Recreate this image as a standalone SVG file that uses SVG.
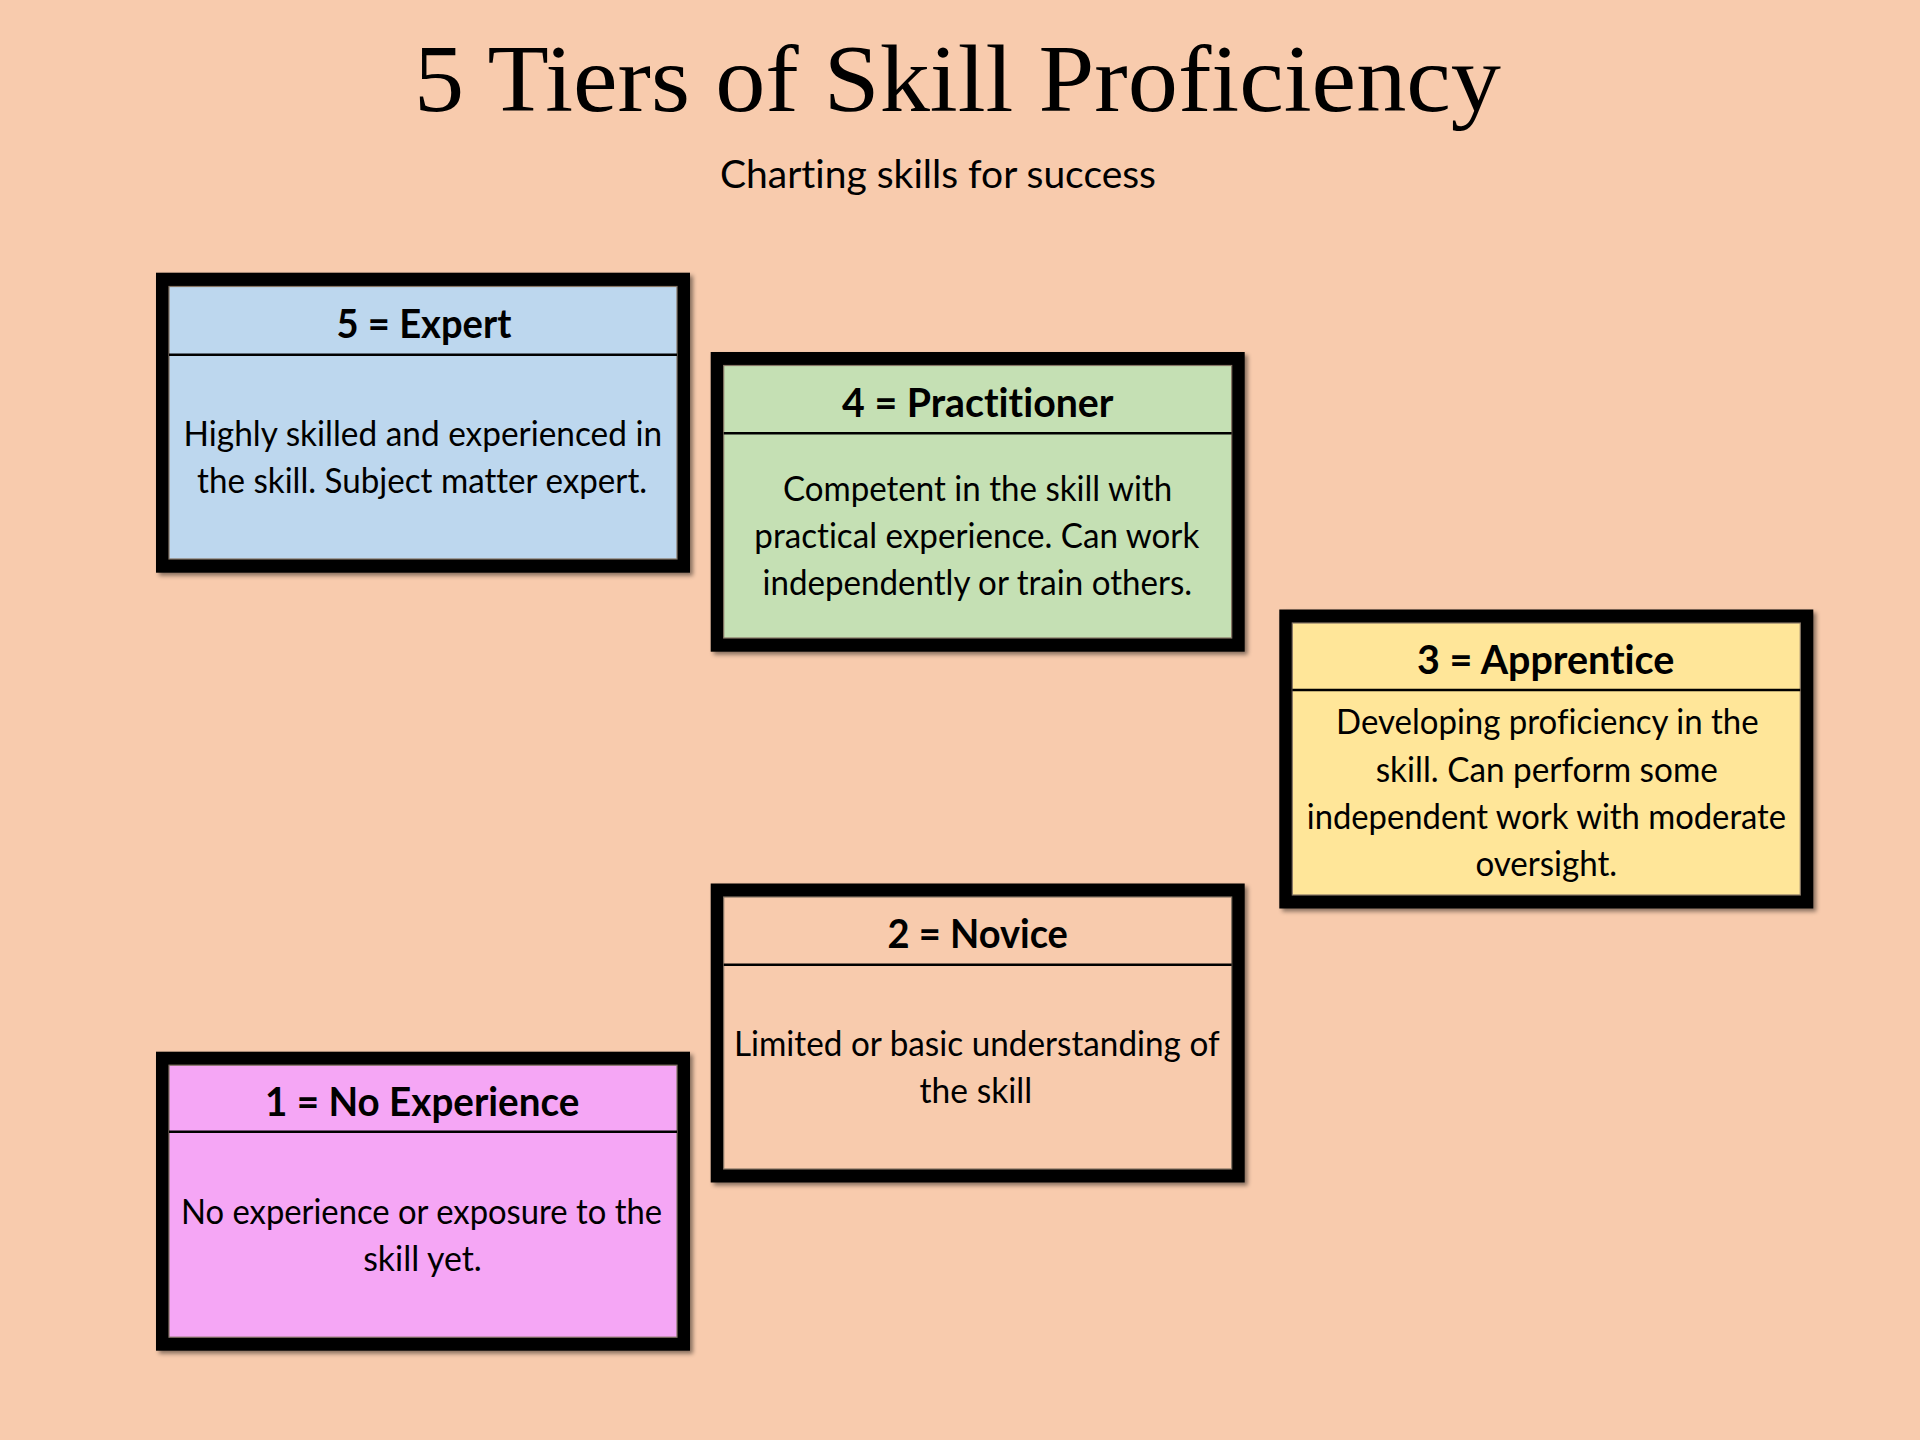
<svg xmlns="http://www.w3.org/2000/svg" width="1920" height="1440" viewBox="0 0 1920 1440">
<defs>
<filter id="sh" x="-5%" y="-5%" width="115%" height="115%">
<feDropShadow dx="3" dy="3" stdDeviation="2" flood-color="#000" flood-opacity="0.45"/>
</filter>
<style>
.frame{fill:#000;filter:url(#sh)}
.inner{stroke:#857565;stroke-width:1.2}
.div{stroke:#000;stroke-width:2.6}
text{font-variant-ligatures:none;font-feature-settings:"liga" 0,"clig" 0}
.hdr{font-family:Lato,"Open Sans","Liberation Sans",sans-serif;font-weight:700;font-size:41px;fill:#000}
.txt{font-family:Lato,"Open Sans","Liberation Sans",sans-serif;font-size:34px;fill:#000}
.title{font-family:"Liberation Serif","DejaVu Serif",serif;font-size:96px;fill:#000}
.sub{font-family:Lato,"Open Sans","Liberation Sans",sans-serif;font-size:39px;fill:#000}
</style>
</defs>
<rect x="0" y="0" width="1920" height="1440" fill="#F8CBAD"/>
<g id="title">
<text class="title" x="414" y="111" textLength="1087" lengthAdjust="spacingAndGlyphs">5 Tiers of Skill Proficiency</text>
<text class="sub" x="720" y="188" textLength="436" lengthAdjust="spacingAndGlyphs">Charting skills for success</text>
</g>
<g id="connectors"/>
<g id="tier5">
<rect class="frame" x="156" y="272.7" width="534" height="300"/>
<rect class="inner" x="169" y="286.5" width="508" height="272.5" fill="#BDD7EE"/>
<line class="div" x1="169" y1="354.7" x2="677" y2="354.7"/>
<text class="hdr" x="336.4" y="337.5" textLength="175" lengthAdjust="spacingAndGlyphs">5 = Expert</text>
<text class="txt" x="183.6" y="445.8" textLength="478.5" lengthAdjust="spacingAndGlyphs">Highly skilled and experienced in</text>
<text class="txt" x="197.1" y="492.5" textLength="450" lengthAdjust="spacingAndGlyphs">the skill. Subject matter expert.</text>
</g>
<g id="tier4">
<rect class="frame" x="710.7" y="352" width="534" height="299.7"/>
<rect class="inner" x="723.7" y="365.5" width="508" height="272.5" fill="#C5E0B4"/>
<line class="div" x1="723.7" y1="433.3" x2="1231.7" y2="433.3"/>
<text class="hdr" x="842.1" y="416.5" textLength="271.4" lengthAdjust="spacingAndGlyphs">4 = Practitioner</text>
<text class="txt" x="782.9" y="500.8" textLength="389.3" lengthAdjust="spacingAndGlyphs">Competent in the skill with</text>
<text class="txt" x="754.3" y="547.5" textLength="445" lengthAdjust="spacingAndGlyphs">practical experience. Can work</text>
<text class="txt" x="762.5" y="594.8" textLength="429.6" lengthAdjust="spacingAndGlyphs">independently or train others.</text>
</g>
<g id="tier3">
<rect class="frame" x="1279.3" y="609.5" width="534" height="299"/>
<rect class="inner" x="1292.3" y="623" width="508" height="272" fill="#FFE699"/>
<line class="div" x1="1292.3" y1="690" x2="1800.3" y2="690"/>
<text class="hdr" x="1417.1" y="673.5" textLength="257.2" lengthAdjust="spacingAndGlyphs">3 = Apprentice</text>
<text class="txt" x="1336.1" y="734.2" textLength="422.5" lengthAdjust="spacingAndGlyphs">Developing proficiency in the</text>
<text class="txt" x="1375.7" y="781.5" textLength="342.2" lengthAdjust="spacingAndGlyphs">skill. Can perform some</text>
<text class="txt" x="1306.8" y="829.2" textLength="479.3" lengthAdjust="spacingAndGlyphs">independent work with moderate</text>
<text class="txt" x="1475.4" y="875.8" textLength="141.7" lengthAdjust="spacingAndGlyphs">oversight.</text>
</g>
<g id="tier2">
<rect class="frame" x="710.7" y="883.5" width="534" height="299"/>
<rect class="inner" x="723.7" y="897" width="508" height="272" fill="#F8CBAD"/>
<line class="div" x1="723.7" y1="964.7" x2="1231.7" y2="964.7"/>
<text class="hdr" x="887.5" y="948.2" textLength="180.4" lengthAdjust="spacingAndGlyphs">2 = Novice</text>
<text class="txt" x="733.9" y="1055.8" textLength="485.7" lengthAdjust="spacingAndGlyphs">Limited or basic understanding of</text>
<text class="txt" x="919.6" y="1102.5" textLength="112.5" lengthAdjust="spacingAndGlyphs">the skill</text>
</g>
<g id="tier1">
<rect class="frame" x="156" y="1051.7" width="534" height="299"/>
<rect class="inner" x="169" y="1065.2" width="508" height="272" fill="#F5A6F5"/>
<line class="div" x1="169" y1="1131.7" x2="677" y2="1131.7"/>
<text class="hdr" x="265" y="1115.8" textLength="314.3" lengthAdjust="spacingAndGlyphs">1 = No Experience</text>
<text class="txt" x="181" y="1224.2" textLength="481" lengthAdjust="spacingAndGlyphs">No experience or exposure to the</text>
<text class="txt" x="363.2" y="1270.8" textLength="118.6" lengthAdjust="spacingAndGlyphs">skill yet.</text>
</g>
</svg>
